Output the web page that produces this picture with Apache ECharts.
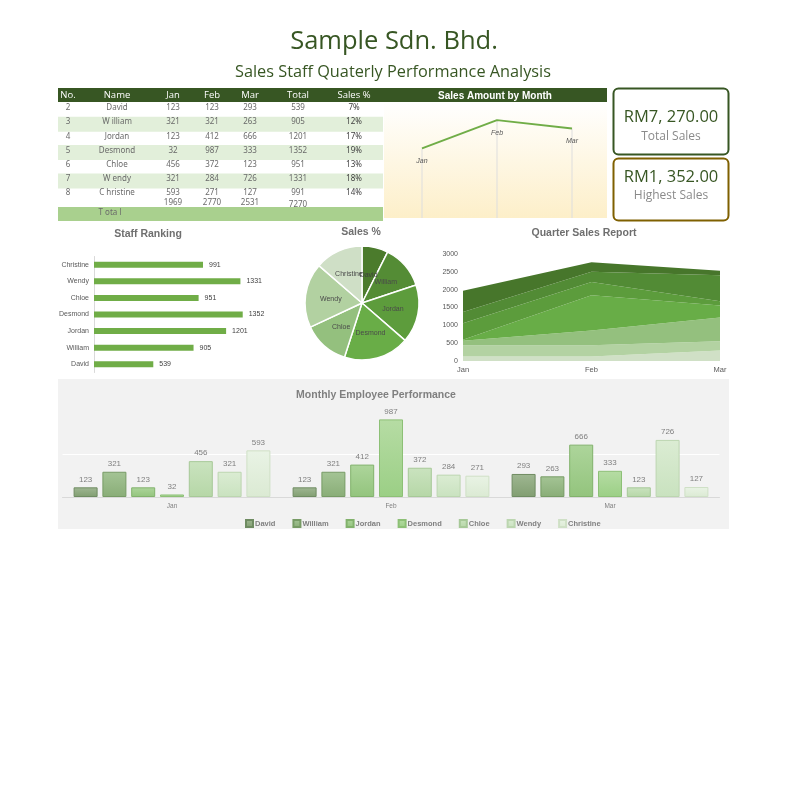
<!DOCTYPE html>
<html><head><meta charset="utf-8">
<script src="https://cdn.jsdelivr.net/npm/echarts@6/dist/echarts.min.js"></script>
<style>html,body{margin:0;padding:0;background:#fff}#c{width:794px;height:794px}</style>
</head><body><div id="c"></div><script>
// ---------- data ----------
const months = ['Jan', 'Feb', 'Mar'];
const staff = ['David', 'William', 'Jordan', 'Desmond', 'Chloe', 'Wendy', 'Christine'];
const tableNames = ['David', 'W illiam', 'Jordan', 'Desmond', 'Chloe', 'W endy', 'C hristine'];
const rowNos = ['2', '3', '4', '5', '6', '7', '8'];
const janSales = [123, 321, 123, 32, 456, 321, 593];
const febSales = [123, 321, 412, 987, 372, 284, 271];
const marSales = [293, 263, 666, 333, 123, 726, 127];
const staffTotals = [539, 905, 1201, 1352, 951, 1331, 991];
const salesPct = ['7%', '12%', '17%', '19%', '13%', '18%', '14%'];
const monthTotals = [1969, 2770, 2531];
const grandTotal = 7270;
const totalLabel = 'T ota l';
const tableHeaders = ['No.', 'Name', 'Jan', 'Feb', 'Mar', 'Total', 'Sales %'];
const kpiTotal = 'RM7, 270.00';
const kpiTotalLabel = 'Total Sales';
const kpiHighest = 'RM1, 352.00';
const kpiHighestLabel = 'Highest Sales';
const mainTitle = 'Sample Sdn. Bhd.';
const subTitle = 'Sales Staff Quaterly Performance Analysis';

// ---------- styles ----------
const DARK = '#375623';
const ARIAL = '"Liberation Sans", Arial, sans-serif';
const OPEN = '"Open Sans", "Noto Sans", sans-serif';
const BODY = '"Noto Sans", "Open Sans", sans-serif';
const pieColors = ['#4b7b2c', '#548c35', '#5d9c3c', '#69ad47', '#94c07e', '#b2d1a1', '#cfdfc6'];
const areaColors = ['#d0e0c6', '#b3d2a2', '#94c07e', '#68ad47', '#5c9c3c', '#528b35', '#47762b'];
const barTop = ['#9fb792', '#a4c495', '#add59b', '#b6dca4', '#cae3bf', '#dbecd3', '#e9f3e5'];
const barBot = ['#819e71', '#89ad77', '#93c47d', '#9bcf85', '#b6d7a7', '#c9e2bf', '#dbead3'];
const barBorder = ['#6f8c62', '#779b65', '#82b26c', '#8dc076', '#a7c998', '#bcd6b0', '#cfe0c6'];
const PIE_C = [362, 303], PIE_R = 57;

function txt(x, y, text, font, fill, align) {
  return { type: 'text', x: x, y: y, silent: true, z: 10,
    style: { text: String(text), font: font, fill: fill,
      align: align || 'center', verticalAlign: 'middle',
      textAlign: align || 'center', textVerticalAlign: 'middle' } };
}

const g = [];
// titles
g.push(txt(394, 42, mainTitle, '25.5px ' + OPEN, DARK));
g.push(txt(393, 72, subTitle, '16.3px ' + OPEN, DARK));

// table
const colX = [68, 117, 173, 212, 250, 298, 354];
const rowY0 = 108, rowStep = 14.2;
g.push({ type: 'rect', z: 0, shape: { x: 58, y: 88, width: 549, height: 14 }, style: { fill: DARK } });
for (let i = 0; i < staff.length; i++) {
  if (i % 2 === 1) {
    g.push({ type: 'rect', z: 0, shape: { x: 58, y: rowY0 + i * rowStep - 5.5, width: 325, height: 15 }, style: { fill: '#e2efda' } });
  }
}
g.push({ type: 'rect', z: 0, shape: { x: 58, y: 207, width: 325, height: 14 }, style: { fill: '#a9d08e' } });
tableHeaders.forEach((h, j) => g.push(txt(colX[j], 95, h, '9.5px ' + OPEN, '#ffffff')));
for (let i = 0; i < staff.length; i++) {
  const y = rowY0 + i * rowStep;
  const cells = [rowNos[i], tableNames[i], janSales[i], febSales[i], marSales[i], staffTotals[i], salesPct[i]];
  cells.forEach((c, j) => g.push(txt(colX[j], y, c, '8px ' + BODY, j === 6 ? '#404040' : '#6a6a6a')));
}
monthTotals.forEach((v, j) => g.push(txt(colX[j + 2], 202.5, v, '8px ' + BODY, '#6a6a6a')));
g.push(txt(colX[5], 205, grandTotal, '8px ' + BODY, '#6a6a6a'));
g.push(txt(110, 213, totalLabel, '8px ' + BODY, '#6a6a6a'));

// Sales Amount by Month panel
g.push({ type: 'rect', z: 0, shape: { x: 384, y: 102, width: 223, height: 116 },
  style: { fill: { type: 'linear', x: 0, y: 0, x2: 0, y2: 1, colorStops: [{ offset: 0, color: '#ffffff' }, { offset: 1, color: '#fdefc9' }] } } });
g.push(txt(495, 96, 'Sales Amount by Month', 'bold 10px ' + ARIAL, '#ffffff'));

// KPI boxes
g.push({ type: 'rect', z: 0, shape: { x: 613.5, y: 88.5, width: 115, height: 66, r: 5 }, style: { fill: '#fff', stroke: DARK, lineWidth: 2 } });
g.push(txt(671, 117.5, kpiTotal, '16.5px ' + OPEN, DARK));
g.push(txt(671, 136.5, kpiTotalLabel, '12px ' + OPEN, '#8a8a8a'));
g.push({ type: 'rect', z: 0, shape: { x: 613.5, y: 158.5, width: 115, height: 62, r: 5 }, style: { fill: '#fff', stroke: '#7f6000', lineWidth: 2 } });
g.push(txt(671, 177, kpiHighest, '16.5px ' + OPEN, DARK));
g.push(txt(671, 195.5, kpiHighestLabel, '12px ' + OPEN, '#8a8a8a'));

// section titles
g.push(txt(148, 234, 'Staff Ranking', 'bold 10.5px ' + ARIAL, '#6f6f6f'));
g.push(txt(361, 232, 'Sales %', 'bold 10.5px ' + ARIAL, '#6f6f6f'));
g.push(txt(584, 233, 'Quarter Sales Report', 'bold 10.5px ' + ARIAL, '#6f6f6f'));

// bottom panel
g.push({ type: 'rect', z: 0, shape: { x: 58, y: 379, width: 671, height: 150 }, style: { fill: '#f2f2f2' } });
g.push(txt(376, 395, 'Monthly Employee Performance', 'bold 10.5px ' + ARIAL, '#808080'));

// label for the smallest pie slice (ECharts hides inside labels that overflow their sector);
// position derived from the data: mid-angle of the slice at half radius
(function () {
  const sum = staffTotals.reduce((a, b) => a + b, 0);
  const mid = (staffTotals[0] / 2) / sum * 2 * Math.PI;
  g.push(txt(PIE_C[0] + Math.sin(mid) * PIE_R / 2, PIE_C[1] - Math.cos(mid) * PIE_R / 2, staff[0], '7px ' + ARIAL, '#3f3f3f'));
})();

// ---------- series ----------
const series = [];
// monthly bars (first so legend takes their colours)
staff.forEach((name, i) => {
  series.push({
    type: 'bar', name: name, xAxisIndex: 3, yAxisIndex: 3,
    data: [janSales[i], febSales[i], marSales[i]],
    barWidth: 24, barGap: '20%',
    itemStyle: {
      color: { type: 'linear', x: 0, y: 0, x2: 0, y2: 1, colorStops: [{ offset: 0, color: barTop[i] }, { offset: 1, color: barBot[i] }] },
      borderColor: barBorder[i], borderWidth: 1
    },
    label: { show: true, position: 'top', distance: 4, fontSize: 8, color: '#7f7f7f', fontFamily: ARIAL }
  });
});
// drop lines + line for Sales Amount by Month
series.push({
  type: 'bar', name: 'drop', xAxisIndex: 0, yAxisIndex: 0, data: monthTotals,
  barWidth: 1, itemStyle: { color: '#dddddd' }, silent: true
});
series.push({
  type: 'line', name: 'Sales Amount', xAxisIndex: 0, yAxisIndex: 0, data: monthTotals, z: 5,
  symbol: 'circle', symbolSize: 0.01, showSymbol: true,
  lineStyle: { color: '#70ad47', width: 2 }, itemStyle: { color: '#70ad47' },
  label: { show: true, position: 'bottom', distance: 9, formatter: '{b}', fontSize: 7, fontStyle: 'italic', color: '#595959', fontFamily: ARIAL }
});
// staff ranking
series.push({
  type: 'bar', name: 'Ranking', xAxisIndex: 1, yAxisIndex: 1, data: staffTotals,
  barWidth: 6, itemStyle: { color: '#70ad47' },
  label: { show: true, position: 'right', distance: 6, fontSize: 7, color: '#404040', fontFamily: ARIAL }
});
// pie
series.push({
  type: 'pie', name: 'Sales %', center: PIE_C, radius: PIE_R, startAngle: 90, clockwise: true,
  data: staff.map((n, i) => (i === 0 ? { name: n, value: staffTotals[i], label: { show: false } } : { name: n, value: staffTotals[i] })),
  color: pieColors,
  itemStyle: { borderColor: '#ffffff', borderWidth: 1.5 },
  label: { show: true, position: 'inside', fontSize: 7, color: '#4a4a4a', fontFamily: ARIAL },
  labelLine: { show: false }, emphasis: { disabled: true }
});
// quarter stacked area
staff.forEach((name, i) => {
  series.push({
    type: 'line', name: 'Q ' + name, xAxisIndex: 2, yAxisIndex: 2, stack: 'quarter',
    data: [janSales[i], febSales[i], marSales[i]],
    symbol: 'none', lineStyle: { width: 0 }, itemStyle: { color: areaColors[i] },
    areaStyle: { color: areaColors[i], opacity: 1 }
  });
});

const hidden = { show: false };
const option = {
  animation: false,
  backgroundColor: '#ffffff',
  graphic: { elements: g },
  legend: {
    data: staff, left: 240, top: 514, itemWidth: 7, itemHeight: 7, itemGap: 17,
    icon: 'rect', selectedMode: false,
    textStyle: { fontSize: 7.5, fontWeight: 'bold', color: '#7f7f7f', fontFamily: ARIAL, padding: [0, 0, 0, -3] }
  },
  grid: [
    { left: 422, right: 222, top: 112, bottom: 576 },
    { left: 94, right: 524, top: 256.5, bottom: 421.5 },
    { left: 463, right: 74, top: 254, bottom: 433 },
    { left: 62.5, right: 74.5, top: 410.5, bottom: 297 }
  ],
  xAxis: [
    { gridIndex: 0, type: 'category', data: months, boundaryGap: false, show: false },
    { gridIndex: 1, type: 'value', min: 0, max: 1600, show: false },
    { gridIndex: 2, type: 'category', data: months, boundaryGap: false,
      axisLine: hidden, axisTick: hidden,
      axisLabel: { fontSize: 7.5, color: '#595959', margin: 5, fontFamily: ARIAL } },
    { gridIndex: 3, type: 'category', data: months,
      axisLine: { lineStyle: { color: '#d9d9d9' } }, axisTick: hidden,
      axisLabel: { fontSize: 6.5, color: '#808080', margin: 6, fontFamily: ARIAL } }
  ],
  yAxis: [
    { gridIndex: 0, type: 'value', min: 0, max: 3000, show: false },
    { gridIndex: 1, type: 'category', data: staff,
      axisLine: { lineStyle: { color: '#d9d9d9' } }, axisTick: hidden,
      axisLabel: { fontSize: 7, color: '#595959', margin: 5, fontFamily: ARIAL } },
    { gridIndex: 2, type: 'value', min: 0, max: 3000, interval: 500,
      axisLine: hidden, axisTick: hidden, splitLine: hidden,
      axisLabel: { fontSize: 7, color: '#595959', margin: 5, fontFamily: ARIAL, formatter: (v) => String(v) } },
    { gridIndex: 3, type: 'value', min: 0, max: 1100, interval: 550,
      axisLine: hidden, axisTick: hidden, axisLabel: hidden,
      splitLine: { show: true, lineStyle: { color: ['rgba(0,0,0,0)', '#ffffff', 'rgba(0,0,0,0)'], width: 1 } } }
  ],
  series: series
};
const chart = echarts.init(document.getElementById('c'), null, { renderer: 'canvas' });
chart.setOption(option);
</script></body></html>
